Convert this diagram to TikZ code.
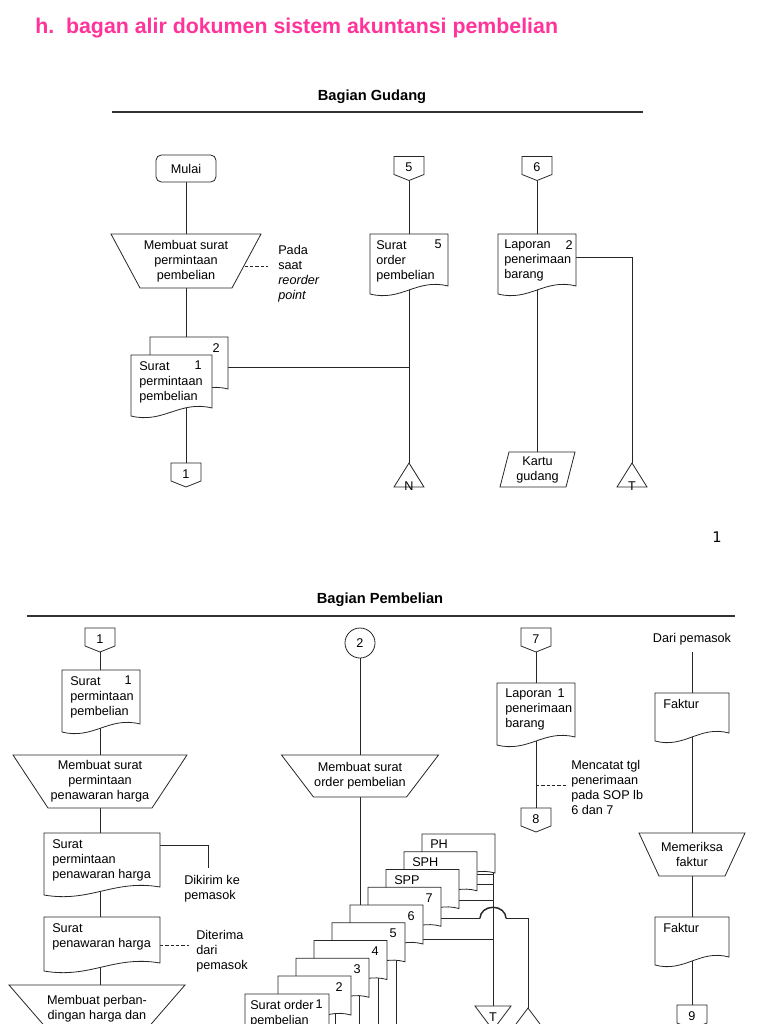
\documentclass[tikz,border=0pt]{standalone}
\usepackage{fontspec}
\setmainfont{Liberation Sans}
\newfontfamily\hurufhal{DejaVu Sans}
\usetikzlibrary{calc}
\usetikzlibrary{backgrounds}

\definecolor{merahmuda}{RGB}{255,51,153}

\makeatletter
\newdimen\bkiri \newdimen\bkanan \newdimen\batas \newdimen\bbawah
\newdimen\bsela \newdimen\bmiring
\def\nilaimiring{0pt}
\def\ambilsudut{%
  \southwest \bkiri=\pgf@x \bbawah=\pgf@y
  \northeast \bkanan=\pgf@x \batas=\pgf@y
  \bsela=\bkanan \advance\bsela by -\bkiri
  \pgfmathsetlength\bmiring{\nilaimiring}}
\makeatother

\newcommand{\bentukkotak}[2]{%
  \pgfdeclareshape{#1}{%
    \inheritsavedanchors[from=rectangle]%
    \inheritanchorborder[from=rectangle]%
    \inheritanchor[from=rectangle]{center}%
    \inheritanchor[from=rectangle]{mid}%
    \inheritanchor[from=rectangle]{base}%
    \inheritanchor[from=rectangle]{north}%
    \inheritanchor[from=rectangle]{south}%
    \inheritanchor[from=rectangle]{east}%
    \inheritanchor[from=rectangle]{west}%
    \inheritanchor[from=rectangle]{north east}%
    \inheritanchor[from=rectangle]{north west}%
    \inheritanchor[from=rectangle]{south east}%
    \inheritanchor[from=rectangle]{south west}%
    \backgroundpath{\ambilsudut #2}}}

%Shape: Document
\bentukkotak{bentukdok}{%
  \pgfpathmoveto{\pgfqpoint{\bkiri}{\batas}}%
  \pgfpathlineto{\pgfqpoint{\bkanan}{\batas}}%
  \pgfpathlineto{\pgfpoint{\bkanan}{\bbawah+6pt}}%
  \pgfpathcurveto{\pgfpoint{\bkanan-0.4*\bsela}{\bbawah+12pt}}%
    {\pgfpoint{\bkiri+0.4*\bsela}{\bbawah-6pt}}{\pgfqpoint{\bkiri}{\bbawah}}%
  \pgfpathclose}
%Shape: Manual operation
\bentukkotak{bentukops}{%
  \pgfpathmoveto{\pgfqpoint{\bkiri}{\batas}}%
  \pgfpathlineto{\pgfqpoint{\bkanan}{\batas}}%
  \pgfpathlineto{\pgfpoint{\bkanan-\bmiring}{\bbawah}}%
  \pgfpathlineto{\pgfpoint{\bkiri+\bmiring}{\bbawah}}%
  \pgfpathclose}
%Shape: Off-page connector
\bentukkotak{bentukhal}{%
  \pgfpathmoveto{\pgfqpoint{\bkiri}{\batas}}%
  \pgfpathlineto{\pgfqpoint{\bkanan}{\batas}}%
  \pgfpathlineto{\pgfpoint{\bkanan}{\bbawah+4.5pt}}%
  \pgfpathlineto{\pgfpoint{\bkiri+0.5*\bsela}{\bbawah}}%
  \pgfpathlineto{\pgfpoint{\bkiri}{\bbawah+4.5pt}}%
  \pgfpathclose}
%Shape: File (triangle)
\bentukkotak{bentukarsip}{%
  \pgfpathmoveto{\pgfqpoint{\bkiri}{\bbawah}}%
  \pgfpathlineto{\pgfqpoint{\bkanan}{\bbawah}}%
  \pgfpathlineto{\pgfpoint{\bkiri+0.5*\bsela}{\batas}}%
  \pgfpathclose}
\bentukkotak{bentukarsipbalik}{%
  \pgfpathmoveto{\pgfqpoint{\bkiri}{\batas}}%
  \pgfpathlineto{\pgfqpoint{\bkanan}{\batas}}%
  \pgfpathlineto{\pgfpoint{\bkiri+0.5*\bsela}{\bbawah}}%
  \pgfpathclose}
%Shape: Parallelogram
\bentukkotak{bentukjajar}{%
  \pgfpathmoveto{\pgfpoint{\bkiri+\bmiring}{\batas}}%
  \pgfpathlineto{\pgfqpoint{\bkanan}{\batas}}%
  \pgfpathlineto{\pgfpoint{\bkanan-\bmiring}{\bbawah}}%
  \pgfpathlineto{\pgfqpoint{\bkiri}{\bbawah}}%
  \pgfpathclose}

\tikzset{
  miring/.code={\def\nilaimiring{#1*0.75pt}},
  ukuran/.style 2 args={minimum width=#1*0.75pt, minimum height=#2*0.75pt},
  garis/.style={draw=black!85, line width=0.6pt},
  putus/.style={garis, dash pattern=on 2.5pt off 1.5pt},
  garistebal/.style={draw=black!80, line width=1.3pt},
  bentuk/.style={garis, fill=white, inner sep=0pt, outer sep=0pt},
  dok/.style={bentuk, shape=bentukdok, anchor=north west},
  operasi/.style={bentuk, shape=bentukops, align=center},
  konektor/.style={bentuk, shape=bentukhal, ukuran={30}{24}, text depth=1.5pt},
  arsip/.style={bentuk, shape=bentukarsip, ukuran={30}{24}},
  arsipbalik/.style={bentuk, shape=bentukarsipbalik, ukuran={36}{24}},
  jajar/.style={bentuk, shape=bentukjajar, align=center},
  lingkaran/.style={bentuk, circle, minimum size=30*0.75pt},
  teks/.style={inner sep=0pt, align=left},
  isi/.style={teks, anchor=north west},
  huruf/.style={inner sep=0pt, anchor=base},
  kepala/.style={inner sep=0pt, font=\fontsize{11}{13}\selectfont\bfseries},
  judul/.style={inner sep=0pt, text=merahmuda, font=\fontsize{16}{19}\selectfont\bfseries}
}

\begin{document}
\begin{tikzpicture}[x=0.75pt,y=0.75pt,yscale=-1,xscale=1,font=\fontsize{9.5}{11.25}\selectfont]
\path[use as bounding box] (0,0) rectangle (768,1024);

% Text Node
\node[judul, anchor=base west] (judul) at (35,34) {h.\ \ bagan alir dokumen sistem akuntansi pembelian};

%%%%%%%% Bagian Gudang
% Text Node
\node[kepala] (bagGudang) at (372,97) {Bagian Gudang};
%Straight Lines
\draw[garistebal] (112,112) -- (643,112);

%Rounded Rect
\node[bentuk, rounded corners=4pt, ukuran={60}{27}] (mulai) at (186,168.5) {Mulai};
%Shape: Manual operation
\node[operasi, ukuran={150}{54}, miring=29] (buatSPP) at (186,261) {Membuat surat\\permintaan\\pembelian};
% Text Node
\node[teks, anchor=west] (pada) at (278,274) {Pada\\saat\\\textit{reorder}\\\textit{point}};
\coordinate (ujungPada) at (268,266);

%Shape: Document stack
\node[dok, ukuran={78}{60}] (sppDua) at (150,337) {};
\node[isi, anchor=north east] (noSppDua) at ($(sppDua.north east)+(-8,6)$) {2};
\node[dok, ukuran={81}{61}] (sppSatu) at (131,355) {};
\node[isi] (teksSppSatu) at ($(sppSatu.north west)+(8,6)$) {Surat\\permintaan\\pembelian};
\node[isi, anchor=north east] (noSppSatu) at ($(sppSatu.north east)+(-10,6)$) {1};
%Shape: Off-page connector
\node[konektor] (keSatu) at (186,475) {1};

\node[konektor] (dariLima) at (409,168.5) {5};
\node[dok, ukuran={78}{60}] (sop) at (370,234) {};
\node[isi] (teksSop) at ($(sop.north west)+(6,6)$) {Surat\\order\\pembelian};
\node[isi, anchor=north east] (noSop) at ($(sop.north east)+(-6,6)$) {5};
%Shape: File
\node[arsip] (arsipN) at (409,475) {};
\node[huruf] (hurufN) at (409,490) {N};

\node[konektor] (dariEnam) at (537,168.5) {6};
\node[dok, ukuran={78}{60}] (lpb) at (498,234) {};
\node[isi] (teksLpb) at ($(lpb.north west)+(6,6)$) {Laporan\\penerimaan\\barang};
\node[isi, anchor=north east] (noLpb) at ($(lpb.north east)+(-3,6)$) {2};
%Shape: Parallelogram
\node[jajar, ukuran={75}{35}, miring=9] (kartu) at (537.5,469.5) {Kartu\\gudang};
\node[arsip] (arsipT) at (632,475) {};
\node[huruf] (hurufT) at (632,490) {T};

% Text Node
\node[inner sep=0pt, font=\hurufhal\fontsize{11}{13}\selectfont] (noHalaman) at (717,537) {1};

%%%%%%%% Bagian Pembelian
% Text Node
\node[kepala] (bagBeli) at (380,600) {Bagian Pembelian};
%Straight Lines
\draw[garistebal] (27,616) -- (735,616);

\node[konektor] (dariSatu) at (100,640) {1};
\node[dok, ukuran={78}{62}] (spp) at (62,670) {};
\node[isi] (teksSpp) at ($(spp.north west)+(8,6)$) {Surat\\permintaan\\pembelian};
\node[isi, anchor=north east] (noSpp) at ($(spp.north east)+(-8,6)$) {1};
\node[operasi, ukuran={174}{53}, miring=35] (buatSPPH) at (100,781.5) {Membuat surat\\permintaan\\penawaran harga};
\node[dok, ukuran={116}{62}] (spph) at (44,833) {};
\node[isi] (teksSpph) at ($(spph.north west)+(8,6)$) {Surat\\permintaan\\penawaran harga};
\node[isi] (kirim) at (184,875) {Dikirim ke\\pemasok};
\coordinate (ujungKirim) at (208,868);
\node[dok, ukuran={116}{54}] (sph) at (44,917) {};
\node[isi] (teksSph) at ($(sph.north west)+(8,6)$) {Surat\\penawaran harga};
\node[isi] (terima) at (196,930) {Diterima\\dari\\pemasok};
\coordinate (ujungTerima) at (189,945);
\node[operasi, ukuran={176}{60}, miring=52] (banding) at (97,1015) {Membuat perban-\\dingan harga dan\\Pemilihan};

%Shape: Circle
\node[lingkaran] (keDua) at (360,643) {2};
\node[operasi, ukuran={157}{42}, miring=32] (buatSOP) at (360,776) {Membuat surat\\order pembelian};

%Shape: Document stack (back to front)
\node[dok, ukuran={73}{47}] (tumpukPH) at (422,834) {};
\node[isi] (teksPH) at ($(tumpukPH.north west)+(8,6)$) {PH};
\node[dok, ukuran={73}{47}] (tumpukSPH) at (404,851.75) {};
\node[isi] (teksSPH) at ($(tumpukSPH.north west)+(8,6)$) {SPH};
\node[dok, ukuran={73}{47}] (tumpukSPP) at (386,869.5) {};
\node[isi] (teksSPP) at ($(tumpukSPP.north west)+(8,6)$) {SPP};
\node[dok, ukuran={73}{47}] (tumpuk7) at (368,887.25) {};
\node[isi, anchor=north east] (no7) at ($(tumpuk7.north east)+(-8,6)$) {7};
\node[dok, ukuran={73}{47}] (tumpuk6) at (350,905) {};
\node[isi, anchor=north east] (no6) at ($(tumpuk6.north east)+(-8,6)$) {6};
\node[dok, ukuran={73}{47}] (tumpuk5) at (332,922.75) {};
\node[isi, anchor=north east] (no5) at ($(tumpuk5.north east)+(-8,6)$) {5};
\node[dok, ukuran={73}{47}] (tumpuk4) at (314,940.5) {};
\node[isi, anchor=north east] (no4) at ($(tumpuk4.north east)+(-8,6)$) {4};
\node[dok, ukuran={73}{47}] (tumpuk3) at (296,958.25) {};
\node[isi, anchor=north east] (no3) at ($(tumpuk3.north east)+(-8,6)$) {3};
\node[dok, ukuran={73}{47}] (tumpuk2) at (278,976) {};
\node[isi, anchor=north east] (no2) at ($(tumpuk2.north east)+(-8,6)$) {2};
\node[dok, ukuran={84}{47}] (tumpuk1) at (245,994) {};
\node[isi] (teksSO1) at ($(tumpuk1.north west)+(5,6)$) {Surat order\\pembelian};
\node[isi, anchor=north east] (no1) at ($(tumpuk1.north east)+(-6,6)$) {1};

\node[arsipbalik] (arsipT2) at (493,1018) {};
\node[huruf] (hurufT2) at (493,1021) {T};
\node[bentuk, shape=bentukarsip, ukuran={36}{24}] (arsipX) at (528,1020) {};
\coordinate (turunDua) at (335,1035);
\coordinate (turunTiga) at (359,1035);
\coordinate (turunEmpat) at (378,1035);
\coordinate (turunLima) at (396,1035);

\node[konektor] (dariTujuh) at (536,640) {7};
\node[dok, ukuran={78}{62}] (lpbBeli) at (497,683) {};
\node[isi] (teksLpbBeli) at ($(lpbBeli.north west)+(8,6)$) {Laporan\\penerimaan\\barang};
\node[isi, anchor=north east] (noLpbBeli) at ($(lpbBeli.north east)+(-10,6)$) {1};
\node[konektor] (keDelapan) at (536,820) {8};
\coordinate (ujungCatat) at (566,785);
\node[isi] (catat) at (571,760) {Mencatat tgl\\penerimaan\\pada SOP lb\\6 dan 7};

% Text Node
\node[teks] (dariPemasok) at (692,639) {Dari pemasok};
\node[dok, ukuran={74}{48}] (faktur) at (655,693) {};
\node[isi] (teksFaktur) at ($(faktur.north west)+(8,6)$) {Faktur};
\node[operasi, ukuran={106}{43}, miring=20] (periksa) at (692,854.5) {Memeriksa\\faktur};
\node[dok, ukuran={74}{48}] (fakturDua) at (655,917) {};
\node[isi] (teksFakturDua) at ($(fakturDua.north west)+(8,6)$) {Faktur};
\node[konektor] (keSembilan) at (692,1017) {9};

%Straight Lines (behind the shapes)
\begin{scope}[on background layer]
\draw[garis] (mulai.south) -- (keSatu.north);
\draw[putus] (buatSPP.center |- ujungPada) -- (ujungPada);
\draw[garis] (sppDua.east) -- (sppDua.east -| dariLima);
\draw[garis] (dariLima.south) -- (arsipN.north);
\draw[garis] (dariEnam.south) -- (dariEnam.south |- kartu.north);
\draw[garis] ($(lpb.north east)+(0,23)$) -| (arsipT.north);

\draw[garis] (dariSatu.south) -- (dariSatu.south |- banding.north);
\draw[garis] ($(spph.north east)+(0,12)$) -| (ujungKirim);
\draw[putus] (sph.east |- ujungTerima) -- (ujungTerima);
\draw[garis] (keDua.south) -- (buatSOP.north);
\draw[garis] (buatSOP.south) -- (buatSOP.south |- tumpuk6.center);
\draw[garis] (dariTujuh.south) -- (keDelapan.north);
\draw[putus] (ujungCatat -| keDelapan) -- (ujungCatat);
\draw[garis] ($(dariPemasok.south)+(0,7)$) -- (keSembilan.north);

\draw[garis] (tumpukPH.center -| arsipT2) -- (arsipT2.north);
\draw[garis] ($(tumpukSPH.north east)+(0,23)$) coordinate (h1) -- (h1 -| arsipT2);
\draw[garis] ($(tumpukSPP.north east)+(0,14.5)$) coordinate (h2) -- (h2 -| arsipT2);
\draw[garis] ($(tumpukSPP.north east)+(0,30.5)$) coordinate (h3) -- (h3 -| arsipT2);
\draw[garis] ($(tumpuk7.north east)+(0,31)$) coordinate (h4) -- ($(h4 -| arsipT2)+(-13,0)$) coordinate (lompatKiri);
\draw[garis, line width=1.1pt] (lompatKiri) arc[start angle=180, end angle=360, x radius=13, y radius=11] coordinate (lompatKanan);
\draw[garis] (lompatKanan) -| (arsipX.north);
\draw[garis] ($(tumpuk6.north east)+(0,34)$) coordinate (h5) -- (h5 -| arsipT2);
\draw[garis] (turunDua |- tumpuk2.center) -- (turunDua);
\draw[garis] (turunTiga |- tumpuk3.center) -- (turunTiga);
\draw[garis] (turunEmpat |- tumpuk4.center) -- (turunEmpat);
\draw[garis] (turunLima |- tumpuk5.center) -- (turunLima);
\end{scope}

\end{tikzpicture}
\end{document}
